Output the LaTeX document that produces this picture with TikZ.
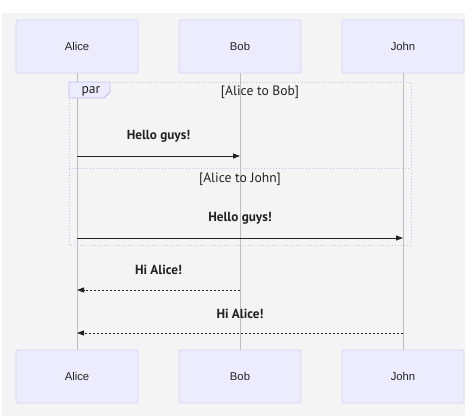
\documentclass[tikz,border=0pt]{standalone}
\usepackage{fontspec}
\setmainfont{Liberation Sans}
\newfontfamily\msgfont{PT Sans}
\usetikzlibrary{arrows.meta}
\definecolor{bgc}{HTML}{F4F4F4}
\definecolor{actfill}{HTML}{ECECFF}
\definecolor{actline}{HTML}{D4D4F7}
\definecolor{lifec}{HTML}{BDBDBD}
\definecolor{loopc}{HTML}{C0C0EE}
\definecolor{txtc}{HTML}{222222}
\tikzset{
  actor/.style={draw=actline, fill=actfill, rounded corners=2pt, minimum width=122pt, minimum height=53pt, line width=0.8pt, font=\fontsize{11.3}{13}\selectfont, text=txtc, inner sep=0pt},
  life/.style={draw=lifec, line width=0.7pt},
  msg/.style={font=\msgfont\bfseries\fontsize{13.2}{15}\selectfont, text=txtc},
  cond/.style={font=\msgfont\fontsize{13.6}{15}\selectfont, text=txtc},
  solidmsg/.style={draw=txtc, line width=1pt, -{Triangle[length=7pt,width=5pt]}},
  dashmsg/.style={draw=txtc, line width=1pt, dash pattern=on 2pt off 2pt, -{Triangle[length=7pt,width=5pt]}},
  loopbox/.style={draw=loopc, line width=1pt, dash pattern=on 1pt off 2pt},
}
\begin{document}
\begin{tikzpicture}[x=1pt,y=-1pt]
\useasboundingbox (0,0) rectangle (474,418);
\fill[white] (0,0) rectangle (474,418);
\fill[bgc] (2,13) rectangle (465,416);
% lifelines
\coordinate (la1) at (77,73); \coordinate (la2) at (77,350);
\coordinate (lb1) at (240,73); \coordinate (lb2) at (240,350);
\coordinate (lj1) at (403,73); \coordinate (lj2) at (403,350);
\draw[life] (la1) -- (la2);
\draw[life] (lb1) -- (lb2);
\draw[life] (lj1) -- (lj2);
% actors
\node[actor] (at) at (77,46.5) {Alice};
\node[actor] (bt) at (240,46.5) {Bob};
\node[actor] (jt) at (403,46.5) {John};
\node[actor] (ab) at (77,376.5) {Alice};
\node[actor] (bb) at (240,376.5) {Bob};
\node[actor] (jb) at (403,376.5) {John};
% par frame
\draw[loopbox] (69,82) rectangle (411,245);
\draw[loopbox] (69,168) -- (411,168);
\filldraw[draw=loopc, fill=actfill, line width=0.8pt] (69,82) -- (110,82) -- (110,92) -- (104,98) -- (69,98) -- cycle;
\node[cond, anchor=west] (par) at (78,91) {par};
\node[cond] (c1) at (260,92) {[Alice to Bob]};
\node[cond] (c2) at (240,179) {[Alice to John]};
% messages
\coordinate (m1s) at (77,156); \coordinate (m1e) at (240,156);
\coordinate (m2s) at (77,238); \coordinate (m2e) at (403,238);
\coordinate (m3s) at (240,290); \coordinate (m3e) at (77,290);
\coordinate (m4s) at (403,333); \coordinate (m4e) at (77,333);
\node[msg] (t1) at (158.5,136) {Hello guys!};
\node[msg] (t2) at (240,218) {Hello guys!};
\node[msg] (t3) at (158.5,270) {Hi Alice!};
\node[msg] (t4) at (240,314) {Hi Alice!};
\draw[solidmsg] (m1s) -- (m1e);
\draw[solidmsg] (m2s) -- (m2e);
\draw[dashmsg] (m3s) -- (m3e);
\draw[dashmsg] (m4s) -- (m4e);
\end{tikzpicture}
\end{document}
